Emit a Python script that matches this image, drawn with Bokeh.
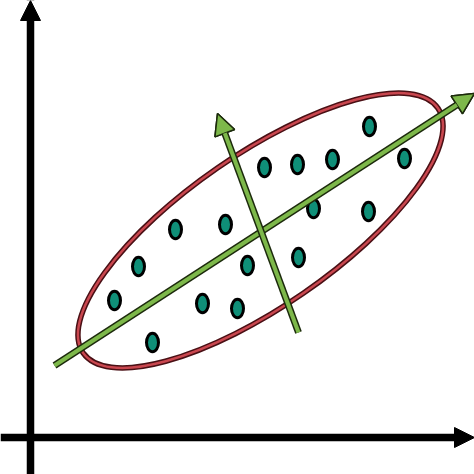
from bokeh.plotting import figure
from bokeh.models import Range1d, Arrow, NormalHead, ColumnDataSource
from bokeh.embed import file_html
from bokeh.resources import INLINE
import math

# Canvas (reference pixel units, y measured upward from the bottom edge)
SIZE = 474

# Data points (x, y) in picture units (y up)
pt_x = [369, 264, 297, 332, 404, 313, 368, 175, 225, 138, 247, 298, 114, 202, 237, 152]
pt_y_down = [126, 167, 164, 159, 158, 208, 211, 229, 224, 266, 265, 257, 300, 303, 308, 342]
pt_y = [SIZE - v for v in pt_y_down]

# Covariance ellipse parameters
ell_cx, ell_cy = 260, SIZE - 230
ell_a, ell_b = 215.5, 76
ell_angle_deg = 34.6

# Principal component arrows: (start, tip)
pc1 = ((54, SIZE - 365), (474, SIZE - 93))
pc2 = ((298, SIZE - 332), (217, SIZE - 113))

# Coordinate axes
origin_x, origin_y = 30, SIZE - 437

p = figure(width=SIZE, height=SIZE, output_backend="svg", toolbar_location=None,
           x_range=Range1d(0, SIZE), y_range=Range1d(0, SIZE),
           min_border=0, outline_line_color=None, background_fill_color="white",
           border_fill_color="white")
p.axis.visible = False
p.grid.visible = False

# Ellipse (dark border + red core)
ang = math.radians(ell_angle_deg)
p.ellipse(x=[ell_cx], y=[ell_cy], width=[2 * ell_a], height=[2 * ell_b], angle=[ang],
          fill_color=None, line_color="#4a1015", line_width=5.5)
p.ellipse(x=[ell_cx], y=[ell_cy], width=[2 * ell_a], height=[2 * ell_b], angle=[ang],
          fill_color=None, line_color="#c9474f", line_width=2.5)

# Points
src = ColumnDataSource(dict(x=pt_x, y=pt_y))
p.ellipse(x="x", y="y", width=12, height=18.5, source=src,
          fill_color="#0f8f78", line_color="black", line_width=3)

# Green arrows
DARK = "#1c2a0c"
GREEN = "#7db84a"
for (s, e) in (pc1, pc2):
    p.add_layout(Arrow(x_start=s[0], y_start=s[1], x_end=e[0], y_end=e[1],
                       line_color=DARK, line_width=7,
                       end=NormalHead(size=21, fill_color=GREEN, line_color=DARK, line_width=1.5)))
    p.add_layout(Arrow(x_start=s[0], y_start=s[1], x_end=e[0], y_end=e[1],
                       line_color=GREEN, line_width=4,
                       end=NormalHead(size=21, fill_color=GREEN, line_color=DARK, line_width=1.5)))

# Axes
p.add_layout(Arrow(x_start=origin_x, y_start=0, x_end=origin_x, y_end=SIZE,
                   line_color="black", line_width=7.5,
                   end=NormalHead(size=20, fill_color="black", line_color="black", line_width=1)))
p.add_layout(Arrow(x_start=0, y_start=origin_y, x_end=SIZE, y_end=origin_y,
                   line_color="black", line_width=7.5,
                   end=NormalHead(size=20, fill_color="black", line_color="black", line_width=1)))

open("out.html", "w").write(file_html(p, INLINE))
